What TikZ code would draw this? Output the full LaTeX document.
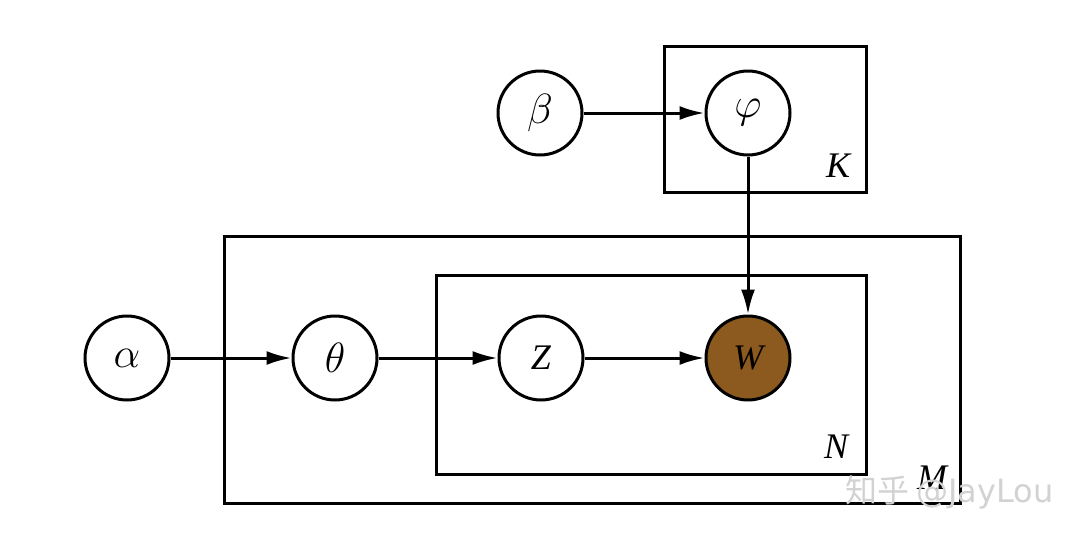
\documentclass[tikz,border=0pt]{standalone}
\usepackage{fontspec}
\setmainfont{Liberation Serif}
\newfontfamily\cjkfont{Noto Sans CJK SC}
\newfontfamily\wmfont{DejaVu Sans}
\usetikzlibrary{arrows.meta}
\definecolor{wbrown}{RGB}{140,90,30}
\newcommand{\bigmath}[1]{\scalebox{1.7}{$#1$}}
\newcommand{\bigital}[1]{{\fontsize{36}{36}\selectfont\itshape #1}}
\begin{document}
\begin{tikzpicture}[x=1pt,y=-1pt,
  var/.style={circle,draw,line width=3pt,minimum size=84pt,inner sep=0pt,font=\fontsize{30}{30}\selectfont},
  plate/.style={draw,line width=3pt},
  edge/.style={line width=3pt,-{Latex[length=25pt,width=14pt]}},
  lbl/.style={inner sep=0pt}]
\useasboundingbox (0,0) rectangle (1085,542);
\draw[plate] (224,236) rectangle (960,503);
\draw[plate] (436,275) rectangle (866,474);
\draw[plate] (664,46) rectangle (866,192);
\node[var] (alpha) at (127,358) {\bigmath{\alpha}};
\node[var] (theta) at (335,358) {\bigmath{\theta}};
\node[var] (z) at (541,358) {\bigital{Z}};
\node[var,fill=wbrown] (w) at (748,358) {\bigital{W}};
\node[var] (beta) at (540,113) {\bigmath{\beta}};
\node[var] (phi) at (748,113) {\bigmath{\varphi}};
\node[lbl] (k) at (838,166) {\bigital{K}};
\node[lbl] (n) at (836,447) {\bigital{N}};
\node[lbl] (m) at (932,478) {\bigital{M}};
\draw[edge] (alpha) -- (theta);
\draw[edge] (theta) -- (z);
\draw[edge] (z) -- (w);
\draw[edge] (beta) -- (phi);
\draw[edge] (phi) -- (w);
\node[text=gray!35,anchor=west,inner sep=0pt] (wm) at (845,492) {\fontsize{32}{32}\selectfont\cjkfont 知乎\ \wmfont @JayLou};
\end{tikzpicture}
\end{document}
